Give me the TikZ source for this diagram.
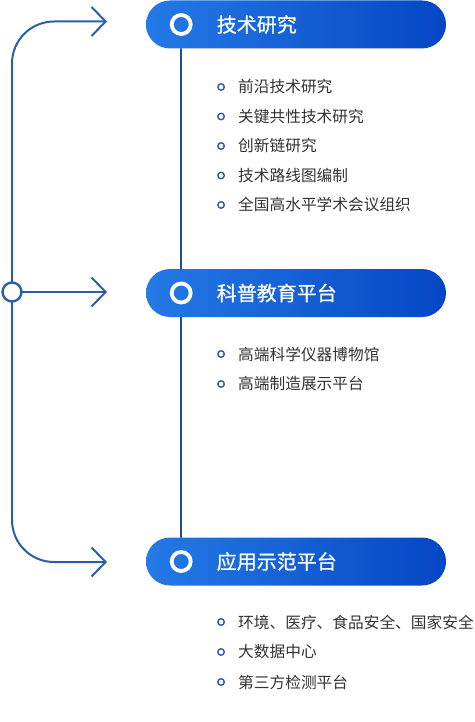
\documentclass[tikz,border=0pt]{standalone}
\usepackage{fontspec}
\setmainfont{Noto Sans CJK SC}
\newfontfamily\titlefont[FakeBold=0.6]{Noto Sans CJK SC}
\usetikzlibrary{arrows.meta,positioning}
\definecolor{lineblue}{HTML}{2A5DAB}
\definecolor{stemblue}{HTML}{1F4F9C}
\definecolor{pillleft}{HTML}{247AE6}
\definecolor{pillright}{HTML}{0546C4}
\definecolor{ink}{HTML}{333333}
\tikzset{
    every picture/.style={line cap=round,line join=round},
    pill/.style={draw=none,rounded corners=24pt,left color=pillleft,right color=pillright,
      minimum width=300pt,minimum height=48pt,inner sep=0pt},
    ring/.style={circle,draw=white,line width=3.8pt,minimum size=19pt,inner sep=0pt},
    pilltitle/.style={inner sep=0pt,text=white,font=\titlefont\fontsize{20}{23}\selectfont},
    bulletdot/.style={circle,draw=lineblue,line width=1.4pt,minimum size=6.5pt,inner sep=0pt,
      label distance=13pt},
    item/.style={anchor=west,inner sep=0pt,text=ink,font=\fontsize{15.7}{18}\selectfont,
      label={[bulletdot]left:{}}},
    hub/.style={circle,draw=lineblue,fill=white,line width=2.4pt,minimum size=19pt,inner sep=0pt},
    branch/.style={draw=lineblue,line width=2pt,-{Straight Barb[length=14pt,width=29pt]}},
    stem/.style={draw=stemblue,line width=1.5pt}
}
\begin{document}
\begin{tikzpicture}[x=1pt,y=-1pt]
  \useasboundingbox (0,0) rectangle (474,722);

  % three pills
  \node[pill] (hd1) at (296,24.5) {};
  \node[ring,right=24pt of hd1.west] (ring1) {};
  \node[pilltitle,right=24pt of ring1] (t1) {技术研究};

  \node[pill] (hd2) at (296,293) {};
  \node[ring,right=24pt of hd2.west] (ring2) {};
  \node[pilltitle,right=24pt of ring2] (t2) {科普教育平台};

  \node[pill] (hd3) at (296,561.5) {};
  \node[ring,right=24pt of hd3.west] (ring3) {};
  \node[pilltitle,right=24pt of ring3] (t3) {应用示范平台};

  \draw[stem] (ring1 |- hd1.south) -- (ring1 |- hd2.north);
  \draw[stem] (ring2 |- hd2.south) -- (ring2 |- hd3.north);

  % items
  \node[item] (it11) at (238,87) {前沿技术研究};
  \node[below=29.5pt of it11.west,item] (it12) {关键共性技术研究};
  \node[below=29.5pt of it12.west,item] (it13) {创新链研究};
  \node[below=29.5pt of it13.west,item] (it14) {技术路线图编制};
  \node[below=29.5pt of it14.west,item] (it15) {全国高水平学术会议组织};

  \node[item] (it21) at (238,354) {高端科学仪器博物馆};
  \node[below=30pt of it21.west,item] (it22) {高端制造展示平台};

  \node[item] (it31) at (238,622) {环境、医疗、食品安全、国家安全};
  \node[below=30pt of it31.west,item] (it32) {大数据中心};
  \node[below=30pt of it32.west,item] (it33) {第三方检测平台};

  % left bracket
  \node[hub] (hub) at (12,292) {};
  \coordinate (tip1) at (107,21.5);
  \coordinate (tip2) at (107,292);
  \coordinate (tip3) at (107,562);
  \draw[branch,rounded corners=42pt] (hub.north) |- (tip1);
  \draw[branch] (hub.east) -- (tip2);
  \draw[branch,rounded corners=42pt] (hub.south) |- (tip3);
\end{tikzpicture}
\end{document}
